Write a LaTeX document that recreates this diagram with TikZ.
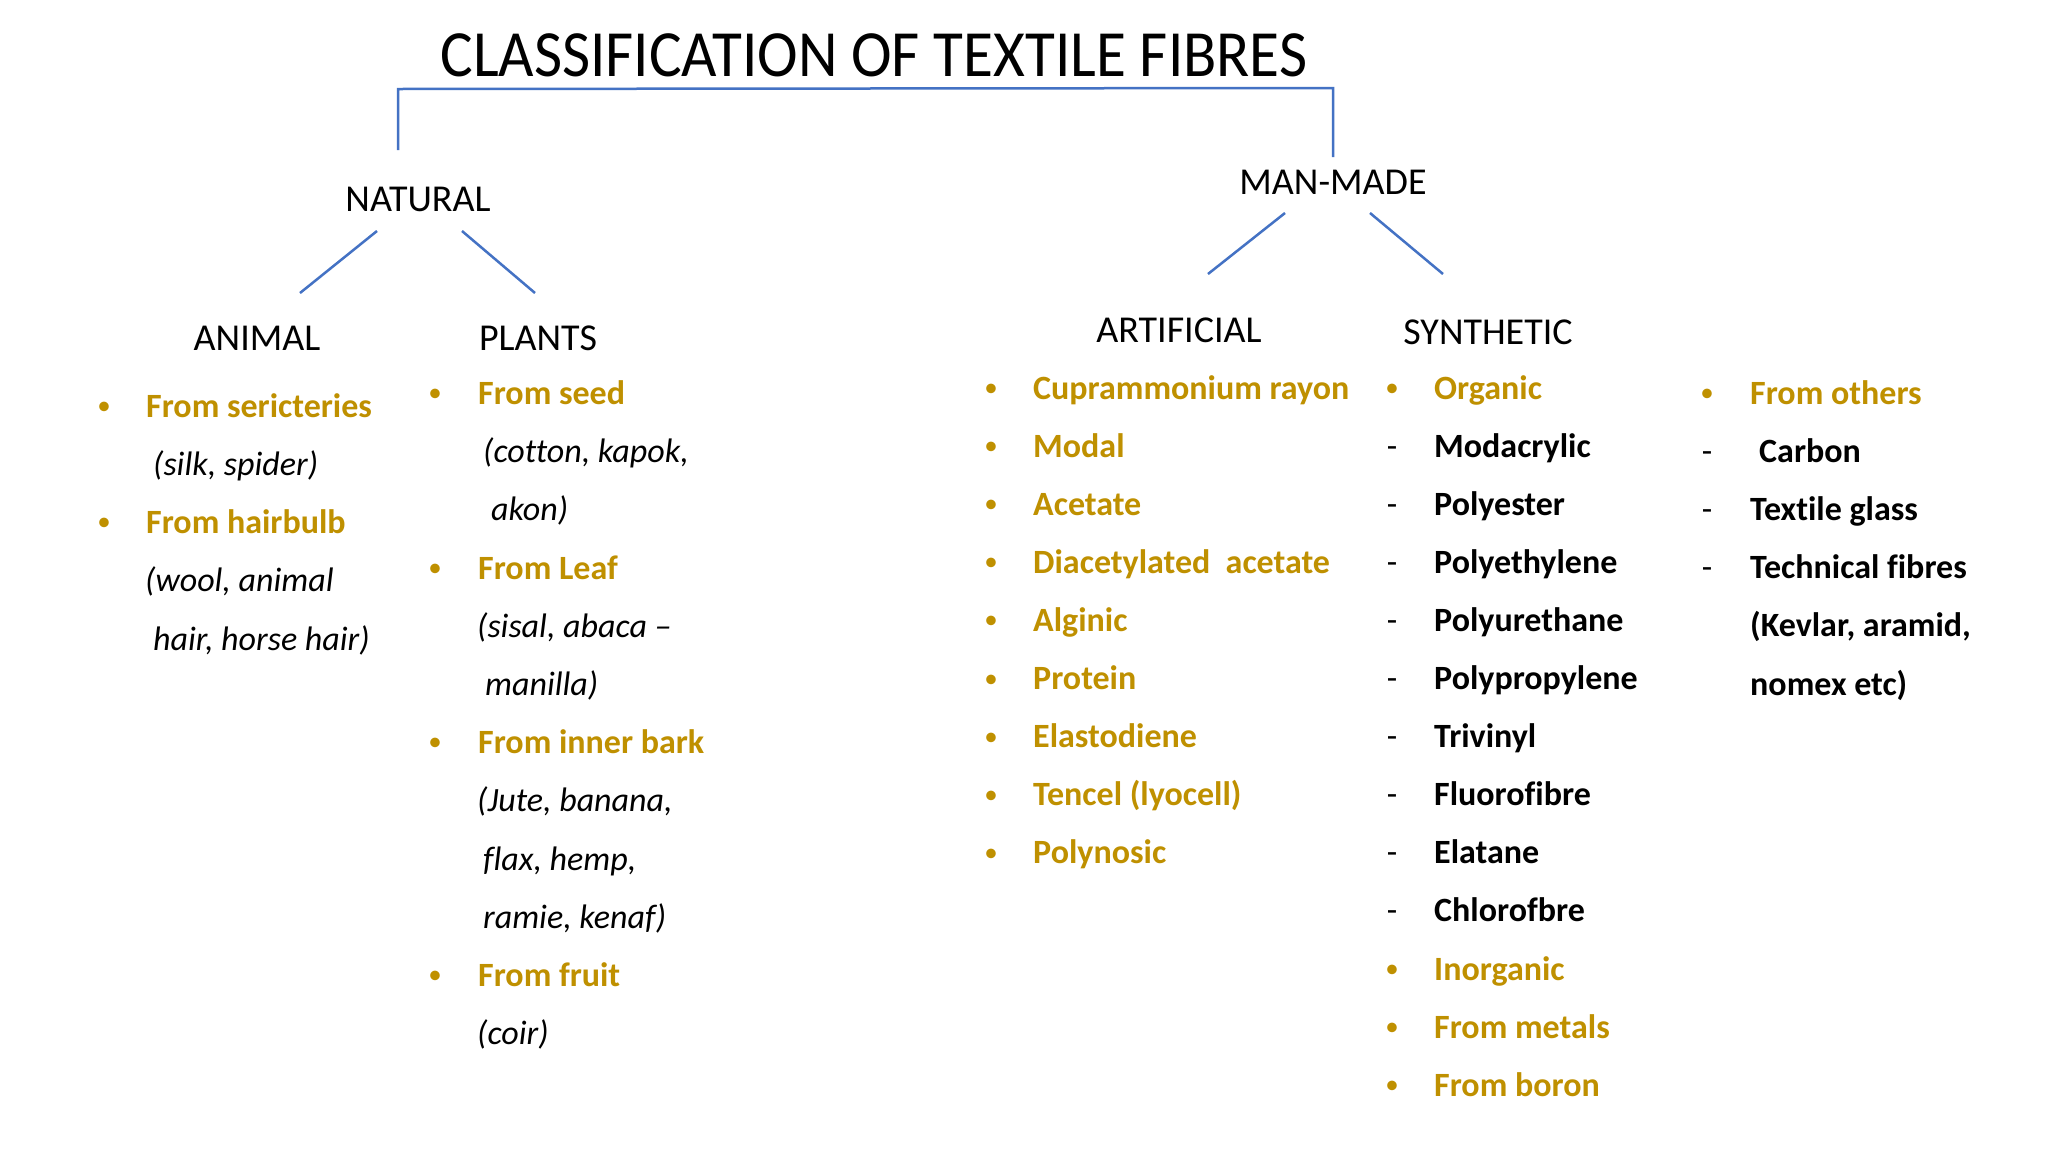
\documentclass[tikz,border=0pt]{standalone}
\usepackage{fontspec}
\setmainfont[Ligatures=NoCommon]{Carlito}
\definecolor{gold}{HTML}{BF9000}
\definecolor{lineblue}{HTML}{4472C4}
\newcommand{\bulsym}{•}
\newcommand{\dshsym}{-}
\begin{document}
\begin{tikzpicture}[x=1pt,y=-1pt,
  conn/.style={draw=lineblue,line width=2.5pt},
  ttl/.style={font=\fontsize{66}{70}\selectfont,anchor=base,inner sep=0},
  head/.style={font=\fontsize{38}{46}\selectfont,anchor=base,inner sep=0},
  itm/.style={font=\fontsize{34}{40}\selectfont\bfseries,text=gold,anchor=base west,inner sep=0},
  sub/.style={font=\fontsize{34}{40}\selectfont\bfseries,text=black,anchor=base west,inner sep=0},
  note/.style={font=\fontsize{34}{40}\selectfont\itshape,text=black,anchor=base west,inner sep=0},
  bul/.style={font=\fontsize{27}{32}\selectfont,text=gold,anchor=base,inner sep=0,yshift=2.5pt},
  dsh/.style={font=\fontsize{34}{40}\selectfont,text=black,anchor=base,inner sep=0}]
\useasboundingbox[fill=white] (0,0) rectangle (2048,1152);

% title and bracket
\node[ttl] (title) at (874,76) {\scalebox{0.927}[1]{CLASSIFICATION OF TEXTILE FIBRES}};
\coordinate (bl) at (398,150);
\coordinate (tl) at (398,89);
\coordinate (tr) at (1333,88);
\coordinate (br) at (1333,157);
\draw[conn] (bl) -- (tl) -- (tr) -- (br);

% level 1
\node[head] (natural) at (418,211) {NATURAL};
\node[head] (manmade) at (1333,194) {MAN-MADE};

% branch lines
\coordinate (n1a) at (377,231); \coordinate (n1b) at (300,293);
\coordinate (n2a) at (462,231); \coordinate (n2b) at (535,293);
\coordinate (m1a) at (1285,213); \coordinate (m1b) at (1208,274);
\coordinate (m2a) at (1370,213); \coordinate (m2b) at (1443,274);
\draw[conn] (n1a) -- (n1b);
\draw[conn] (n2a) -- (n2b);
\draw[conn] (m1a) -- (m1b);
\draw[conn] (m2a) -- (m2b);

% level 2
\node[head] (animal) at (257,350) {ANIMAL};
\node[head] (plants) at (538,350) {PLANTS};
\node[head] (artificial) at (1179,342) {ARTIFICIAL};
\node[head] (synthetic) at (1488,344) {SYNTHETIC};

% animal
\node[bul] (ab1) at (104,417) {\bulsym};
\node[itm] (a1) at (146,417) {From sericteries};
\node[note] (a2) at (153,475) {(silk, spider)};
\node[bul] (ab2) at (104,533) {\bulsym};
\node[itm] (a3) at (146,533) {From hairbulb};
\node[note] (a4) at (145,591) {(wool, animal};
\node[note] (a5) at (153,650) {hair, horse hair)};

% plants
\node[bul] (pb1) at (435,404) {\bulsym};
\node[itm] (p1) at (478,404) {From seed};
\node[note] (p2) at (483,462) {(cotton, kapok,};
\node[note] (p3) at (491,520) {akon)};
\node[bul] (pb2) at (435,579) {\bulsym};
\node[itm] (p4) at (478,579) {From Leaf};
\node[note] (p5) at (477,637) {(sisal, abaca –};
\node[note] (p6) at (485,695) {manilla)};
\node[bul] (pb3) at (435,753) {\bulsym};
\node[itm] (p7) at (478,753) {From inner bark};
\node[note] (p8) at (477,811) {(Jute, banana,};
\node[note] (p9) at (483,870) {flax, hemp,};
\node[note] (p10) at (483,928) {ramie, kenaf)};
\node[bul] (pb4) at (435,986) {\bulsym};
\node[itm] (p11) at (478,986) {From fruit};
\node[note] (p12) at (477,1044) {(coir)};

% artificial
\foreach \t [count=\i] in {Cuprammonium rayon,Modal,Acetate,{Diacetylated\ \ acetate},Alginic,Protein,Elastodiene,Tencel (lyocell),Polynosic}{
  \node[bul] (rb\i) at (991,{399+(\i-1)*58.1}) {\bulsym};
  \node[itm] (r\i) at (1033,{399+(\i-1)*58.1}) {\t};
}

% synthetic
\foreach \t/\s/\m/\k [count=\i] in {Organic/itm/bul/\bulsym,Modacrylic/sub/dsh/\dshsym,Polyester/sub/dsh/\dshsym,Polyethylene/sub/dsh/\dshsym,Polyurethane/sub/dsh/\dshsym,Polypropylene/sub/dsh/\dshsym,Trivinyl/sub/dsh/\dshsym,Fluorofibre/sub/dsh/\dshsym,Elatane/sub/dsh/\dshsym,Chlorofbre/sub/dsh/\dshsym,Inorganic/itm/bul/\bulsym,From metals/itm/bul/\bulsym,From boron/itm/bul/\bulsym}{
  \node[\m] (sb\i) at (1392,{399+(\i-1)*58.1}) {\k};
  \node[\s] (s\i) at (1434,{399+(\i-1)*58.1}) {\t};
}

% others
\node[bul] (ob1) at (1707,404) {\bulsym};
\node[itm] (o1) at (1750,404) {From others};
\node[dsh] (ob2) at (1707,462) {\dshsym};
\node[sub] (o2) at (1759,462) {Carbon};
\node[dsh] (ob3) at (1707,520) {\dshsym};
\node[sub] (o3) at (1750,520) {Textile glass};
\node[dsh] (ob4) at (1707,578) {\dshsym};
\node[sub] (o4) at (1750,578) {Technical fibres};
\node[sub] (o5) at (1750,636) {(Kevlar, aramid,};
\node[sub] (o6) at (1750,695) {nomex etc)};
\end{tikzpicture}
\end{document}
